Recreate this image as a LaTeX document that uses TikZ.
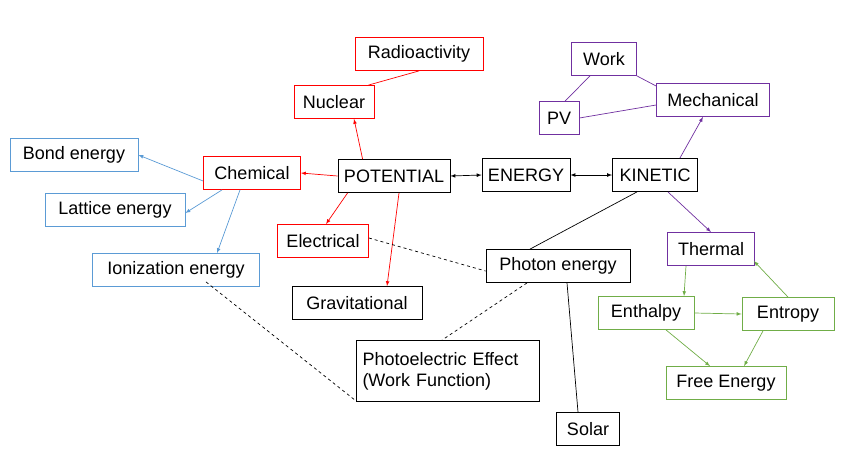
\documentclass[tikz,border=0pt]{standalone}
\usepackage{fontspec}
\setmainfont{Liberation Sans}
\begin{document}
\begin{tikzpicture}[x=1pt,y=-1pt,
 bx/.style={draw,fill=white,minimum height=33pt,inner xsep=6pt,font=\fontsize{18}{21}\selectfont,line width=0.8pt},
 arr/.style={-latex,line width=0.7pt},
 lin/.style={line width=0.7pt}]
\definecolor{bl}{RGB}{91,155,213}
\definecolor{pu}{RGB}{112,48,160}
\definecolor{gr}{RGB}{112,173,71}
\useasboundingbox (0,0) rectangle (853,472);
% nodes
\node[bx,draw=red,minimum width=128pt] (rad) at (419,54) {Radioactivity};
\node[bx,draw=red,minimum width=80pt] (nuc) at (334,102) {Nuclear};
\node[bx,draw=red,minimum width=97pt] (chem) at (252,173) {Chemical};
\node[bx,minimum width=107pt] (pot) at (394,176) {POTENTIAL};
\node[bx,minimum width=85pt] (en) at (526,175) {ENERGY};
\node[bx,minimum width=85pt] (kin) at (655,175) {KINETIC};
\node[bx,draw=pu,minimum width=65pt] (work) at (604,59) {Work};
\node[bx,draw=pu,minimum width=40pt] (pv) at (559,118) {PV};
\node[bx,draw=pu,minimum width=113pt] (mech) at (713,100) {Mechanical};
\node[bx,draw=bl,minimum width=128pt] (bond) at (74,155) {Bond energy};
\node[bx,draw=bl,minimum width=140pt] (lat) at (115,210) {Lattice energy};
\node[bx,draw=bl,minimum width=167pt] (ion) at (176,270) {Ionization energy};
\node[bx,draw=red,minimum width=91pt] (elec) at (323,241) {Electrical};
\node[bx,minimum width=130pt] (grav) at (357,303) {Gravitational};
\node[bx,minimum width=144pt] (phot) at (558,266) {Photon energy};
\node[bx,minimum width=183pt,minimum height=61pt,text width=171pt,align=left] (pe) at (448,371) {Photoelectric Effect\\(Work Function)};
\node[bx,minimum width=63pt] (sol) at (588,429) {Solar};
\node[bx,draw=pu,minimum width=87pt] (th) at (711,249) {Thermal};
\node[bx,draw=gr,minimum width=96pt] (ent) at (646,313) {Enthalpy};
\node[bx,draw=gr,minimum width=92pt] (entr) at (788,314) {Entropy};
\node[bx,draw=gr,minimum width=120pt] (free) at (726,383) {Free Energy};
% red
\draw[arr,red] ([xshift=25pt]pot.north west) -- ([xshift=20pt]nuc.south);
\draw[lin,red] ([xshift=-6pt]nuc.north east) -- (rad.south);
\draw[arr,red] (pot.west) -- (chem.east);
\draw[arr,red] ([xshift=10pt]pot.south west) -- ([xshift=3pt]elec.north);
\draw[arr,red] ([xshift=5pt]pot.south) -- ([xshift=30pt]grav.north);
% blue
\draw[arr,bl] ([yshift=-8pt]chem.west) -- (bond.east);
\draw[arr,bl] ([xshift=-30pt]chem.south) -- ([yshift=-3pt]lat.east);
\draw[arr,bl] ([xshift=-12pt]chem.south) -- ([xshift=41pt]ion.north);
% black
\draw[latex-latex,lin] (pot.east) -- (en.west);
\draw[latex-latex,lin] (en.east) -- (kin.west);
\draw[lin] ([xshift=-18pt]kin.south) -- ([xshift=-28pt]phot.north);
\draw[lin] ([xshift=9pt]phot.south) -- ([xshift=-10pt]sol.north);
\draw[lin,dashed] ([yshift=3pt]elec.east) -- ([yshift=-5pt]phot.west);
\draw[lin,dashed] ([xshift=30pt,yshift=5pt]ion.south) -- ([yshift=-30pt]pe.west);
\draw[lin,dashed] ([xshift=-31pt]phot.south) -- ([xshift=-6pt]pe.north);
% purple
\draw[arr,pu] ([xshift=-18pt]kin.north east) -- ([xshift=-10pt]mech.south);
\draw[lin,pu] ([xshift=-14pt]work.south) -- ([xshift=6pt]pv.north);
\draw[lin,pu] (work.south east) -- ([yshift=14pt]mech.west);
\draw[lin,pu] (pv.east) -- ([yshift=-5pt]mech.west);
\draw[arr,pu] ([xshift=-30pt]kin.south east) -- (th.north);
% green
\draw[arr,gr] ([xshift=-25pt]th.south) -- ([xshift=38pt]ent.north);
\draw[arr,gr] (ent.east) -- (entr.west);
\draw[arr,gr] (entr.north) -- ([xshift=-1pt,yshift=-12pt]th.east);
\draw[arr,gr] ([xshift=20pt]ent.south) -- ([xshift=-16pt]free.north);
\draw[arr,gr] ([xshift=-25pt]entr.south) -- ([xshift=18pt]free.north);
\end{tikzpicture}
\end{document}
